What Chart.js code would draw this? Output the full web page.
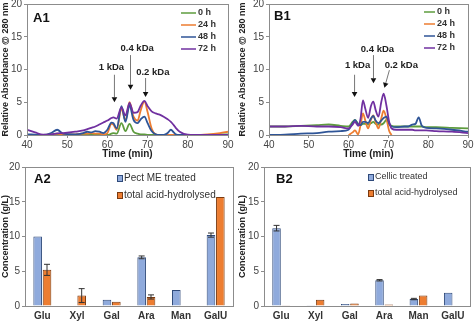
<!DOCTYPE html>
<html><head><meta charset="utf-8">
<script src="https://cdn.jsdelivr.net/npm/chart.js@4"></script>
<style>
html,body{margin:0;padding:0;background:#fff;}
#wrap{position:relative;width:474px;height:321px;overflow:hidden;}
canvas{position:absolute;}
</style></head>
<body><div id="wrap">
<canvas id="a1" width="237" height="160" style="left:0;top:0;width:237px;height:160px"></canvas>
<canvas id="b1" width="237" height="160" style="left:237px;top:0;width:237px;height:160px"></canvas>
<canvas id="a2" width="237" height="161" style="left:0;top:160px;width:237px;height:161px"></canvas>
<canvas id="b2" width="237" height="161" style="left:237px;top:160px;width:237px;height:161px"></canvas>
</div>
<script>
// ---------- DATA ----------
const seriesNames = ["0 h", "24 h", "48 h", "72 h"];

// Panel A1 (Pect ME)
const timeA1 = [40,42,44,46,47.5,49,52,54,55,56,57,58,59,60,61,61.5,62.3,63.5,64.5,65.5,66.5,67.5,68.3,69.2,70,71,72,73,74,75,75.8,76.5,77,78,80,84,88,90];
const a1_0h  = [0,0,0,0,0,0,0,0,0,0,0,0,0,0,0.2,0.3,0.2,1.8,0.6,1.7,0.5,0.2,0.1,0.1,0,0,0,0,0,0,0,0,0,0,0,0,0.1,0.1];
const a1_24h = [0,0,0,0.1,0.2,0.1,0.1,0.2,0.2,0.3,0.2,0.2,0.1,0.3,1.7,1.6,0.8,4.0,2.2,5.0,2.8,2.2,3.8,5.1,3.5,1.0,0.1,0,0,0,0,0,0,0,0,0.05,0.3,0.5];
const a1_48h = [0.1,0.05,0,0.3,0.8,0.2,0.1,0.3,0.5,0.4,0.6,0.5,0.3,0.8,1.9,1.8,1.0,4.4,2.0,4.5,2.3,1.8,2.4,2.8,1.8,0.6,0.1,0,0,0.3,0.8,0.4,0.1,0,0,0,0,0];
const a1_72h = [0.8,0.4,0.05,0.1,0.25,0.3,0.5,0.7,0.9,1.1,1.3,1.6,1.9,2.2,2.6,2.7,2.5,4.2,3.0,4.9,3.4,3.5,4.5,5.2,4.4,3.6,3.3,3.1,2.8,2.4,2.0,1.5,1.1,0.5,0.05,0,0,0];

// Panel B1 (Cellic)
const timeB1 = [40,44,48,52,55,58,60,61,61.6,62.4,63,63.6,64.2,64.9,65.6,66.2,66.8,67.5,68.2,68.8,69.5,70.2,70.8,72,74,75,76,76.8,77.6,78.4,79.5,82,86,90];
const b1_0h  = [1.3,1.3,1.4,1.5,1.6,1.4,1.3,2.0,2.3,1.7,1.5,1.7,1.7,1.6,1.8,2.0,1.7,1.6,1.6,1.8,2.3,1.6,1.4,1.3,1.3,1.3,1.3,1.3,1.3,1.3,1.2,1.2,1.1,1.0];
const b1_24h = [null,null,null,null,null,null,0,0.4,0.7,0.1,1.5,3.3,2.2,1.0,2.3,3.0,2.0,1.0,2.5,3.7,2.5,0.6,0,null,null,null,null,null,null,null,null,null,null,null];
const b1_48h = [0,0.05,0.2,0.3,0.5,0.6,0.8,1.8,2.3,1.6,1.5,2.0,2.0,1.8,2.5,2.9,2.2,1.8,2.2,2.6,2.8,1.8,1.3,1.2,1.3,1.3,1.6,1.7,2.7,1.4,1.1,1.0,0.8,0.5];
const b1_72h = [1.3,1.3,1.4,1.3,1.3,1.2,1.0,1.6,2.0,1.4,2.5,5.3,4.0,2.6,4.4,5.1,3.8,2.8,5.0,6.3,4.5,2.0,1.0,0.8,0.8,0.8,0.8,0.7,0.7,0.7,0.7,0.6,0.5,0.3];

// Panel A2 / B2 sugars
const sugars = ["Glu", "Xyl", "Gal", "Ara", "Man", "GalU"];
const a2_pect     = [10.0, 0, 0.9, 7.0, 2.3, 10.2];
const a2_pectErr  = [0, 0, 0, 0.2, 0, 0.3];
const a2_acid     = [5.2, 1.5, 0.6, 1.3, 0, 15.7];
const a2_acidErr  = [0.8, 1.0, 0, 0.3, 0, 0];
const b2_cellic   = [11.2, 0.1, 0.3, 3.7, 1.0, 1.9];
const b2_cellicErr= [0.4, 0, 0, 0.1, 0.1, 0];
const b2_acid     = [0.05, 0.9, 0.35, 0.2, 1.5, 0];
const b2_acidErr  = [0, 0, 0, 0, 0, 0];

// peak annotations (data units)
const peakA1 = [
  {t:"1 kDa",   tx:61.0, ty:10.4, x1:61.75, y1:9.2,  x2:61.75, y2:5.0},
  {t:"0.4 kDa", tx:67.4, ty:13.3, x1:65.75, y1:12.2, x2:65.75, y2:6.9},
  {t:"0.2 kDa", tx:71.3, ty:9.5,  x1:69.5,  y1:8.7,  x2:69.5,  y2:5.8}
];
const peakB1 = [
  {t:"1 kDa",   tx:62.25, ty:10.7, x1:61.5,  y1:9.2,  x2:61.5,  y2:5.8},
  {t:"0.4 kDa", tx:67.25, ty:13.1, x1:66.25, y1:12.2, x2:66.25, y2:7.9},
  {t:"0.2 kDa", tx:73.25, ty:10.7, x1:70.25, y1:9.9,  x2:69.0,  y2:7.2}
];

// ---------- STYLE ----------
const FONT = "'Liberation Sans', Arial, sans-serif";
Chart.defaults.font.family = FONT;
Chart.defaults.color = '#404040';
const lineColors = ['#5E9C3E', '#ED7D31', '#2F5597', '#7030A0'];
const AXIS = '#8c8c8c';

function fixY(w){ return s => { s.width = w; s.paddingTop = 0; s.paddingBottom = 0; }; }
function fixX(h){ return s => { s.height = h; s.paddingLeft = 0; s.paddingRight = 0; }; }

const framePlugin = {
  id:'frame',
  afterDraw(c){
    const a = c.chartArea, ctx = c.ctx;
    ctx.save(); ctx.strokeStyle = AXIS; ctx.lineWidth = 1;
    ctx.strokeRect(Math.round(a.left)+0.5, Math.round(a.top)+0.5, Math.round(a.right-a.left), Math.round(a.bottom-a.top));
    ctx.restore();
    const o = c.options.plugins.extra;
    if (!o) return;
    ctx.save();
    ctx.fillStyle = '#111';
    ctx.font = 'bold 13px ' + FONT;
    ctx.textBaseline = 'top'; ctx.textAlign = 'left';
    ctx.fillText(o.panel, a.left + o.panelDx, a.top + o.panelDy);
    ctx.restore();
    if (o.lineLegend) {
      ctx.save();
      ctx.font = 'bold 9px ' + FONT; ctx.textBaseline = 'middle'; ctx.fillStyle = '#333';
      o.lineLegend.names.forEach((n,i) => {
        const y = a.top + o.lineLegend.y0 + i*o.lineLegend.dy;
        ctx.strokeStyle = lineColors[i]; ctx.lineWidth = 1.5;
        ctx.beginPath(); ctx.moveTo(a.right - o.lineLegend.x0, y); ctx.lineTo(a.right - o.lineLegend.x1, y); ctx.stroke();
        ctx.fillStyle = '#333';
        ctx.fillText(n, a.right - o.lineLegend.x1 + 2, y);
      });
      ctx.restore();
    }
    if (o.peaks) {
      const xs = c.scales.x, ys = c.scales.y;
      ctx.save();
      ctx.font = 'bold 9.5px ' + FONT; ctx.textAlign = 'center'; ctx.textBaseline = 'middle';
      o.peaks.forEach(p => {
        ctx.fillStyle = '#222';
        ctx.fillText(p.t, xs.getPixelForValue(p.tx), ys.getPixelForValue(p.ty));
        const X1 = xs.getPixelForValue(p.x1), Y1 = ys.getPixelForValue(p.y1);
        const X2 = xs.getPixelForValue(p.x2), Y2 = ys.getPixelForValue(p.y2);
        const ang = Math.atan2(Y2-Y1, X2-X1), L = 5, W = 2.8;
        const bx = X2 - L*Math.cos(ang), by = Y2 - L*Math.sin(ang);
        ctx.strokeStyle = '#777'; ctx.lineWidth = 1;
        ctx.beginPath(); ctx.moveTo(X1,Y1); ctx.lineTo(bx,by); ctx.stroke();
        ctx.fillStyle = '#111';
        ctx.beginPath(); ctx.moveTo(X2,Y2);
        ctx.lineTo(bx + W*Math.sin(ang), by - W*Math.cos(ang));
        ctx.lineTo(bx - W*Math.sin(ang), by + W*Math.cos(ang));
        ctx.closePath(); ctx.fill();
      });
      ctx.restore();
    }
    if (o.barLegend) {
      ctx.save();
      const L = o.barLegend;
      ctx.font = L.size + 'px ' + FONT; ctx.textBaseline = 'middle';
      L.names.forEach((n,i) => {
        const y = a.top + L.y0 + i*L.dy;
        const x = a.left + L.x0;
        ctx.fillStyle = L.fills[i]; ctx.fillRect(x, y-3, 5, 6);
        ctx.strokeStyle = L.borders[i]; ctx.lineWidth = 1; ctx.strokeRect(x+0.5, y-2.5, 5, 6);
        ctx.fillStyle = '#333'; ctx.fillText(n, x + 7, y);
      });
      ctx.restore();
    }
  }
};

const errPlugin = {
  id:'errbars',
  afterDatasetsDraw(c){
    const ctx = c.ctx, ys = c.scales.y;
    c.data.datasets.forEach((ds, di) => {
      if (!ds.errors) return;
      const meta = c.getDatasetMeta(di);
      meta.data.forEach((el, i) => {
        const e = ds.errors[i]; if (!e) return;
        const v = ds.data[i];
        const yt = ys.getPixelForValue(v + e), yb = ys.getPixelForValue(Math.max(0, v - e));
        ctx.save(); ctx.strokeStyle = '#333'; ctx.lineWidth = 1;
        ctx.beginPath();
        ctx.moveTo(el.x, yt); ctx.lineTo(el.x, yb);
        ctx.moveTo(el.x-3, yt); ctx.lineTo(el.x+3, yt);
        ctx.moveTo(el.x-3, yb); ctx.lineTo(el.x+3, yb);
        ctx.stroke(); ctx.restore();
      });
    });
  }
};

function lineChart(id, time, series, geom, extra){
  const datasets = series.map((vals, i) => ({
    label: seriesNames[i],
    data: time.map((t, k) => ({x: t, y: vals[k]})),
    borderColor: lineColors[i], borderWidth: 1.8, pointRadius: 0,
    tension: 0.4, cubicInterpolationMode: 'monotone', spanGaps: false,
    order: 4 - i
  }));
  return new Chart(document.getElementById(id), {
    type: 'line',
    data: { datasets },
    options: {
      responsive: false, animation: false, devicePixelRatio: 1,
      layout: { padding: { top: geom.top, right: geom.right, left: 0, bottom: 0 } },
      plugins: { legend: {display:false}, tooltip: {enabled:false}, extra },
      scales: {
        x: { type: 'linear', min: 40, max: 90,
             ticks: { stepSize: 10, font: {size: 10}, color: '#444', padding: 1, maxRotation: 0 },
             grid: { drawOnChartArea: false, tickLength: 3, color: AXIS },
             border: { color: AXIS },
             title: { display: true, text: 'Time (min)', font: {size: 10, weight: 'bold'}, color: '#222', padding: {top: 0, bottom: 0} },
             afterFit: fixX(geom.xh) },
        y: { min: 0, max: 20,
             ticks: { stepSize: 5, font: {size: 10}, color: '#444', padding: 2 },
             grid: { drawOnChartArea: false, tickLength: 3, color: AXIS },
             border: { color: AXIS },
             title: { display: true, text: 'Relative Absorbance @ 280 nm', font: {size: 9, weight: 'bold'}, color: '#222', padding: {top: 0, bottom: 1} },
             afterFit: fixY(geom.yw) }
      }
    },
    plugins: [framePlugin]
  });
}

function barChart(id, s1, e1, s2, e2, names, geom, extra){
  const fills = ['#8FAADC', '#ED7D31'], borders = ['#2F4A7A', '#7A3A10'];
  return new Chart(document.getElementById(id), {
    type: 'bar',
    data: { labels: sugars, datasets: [
      { label: names[0], data: s1, errors: e1, backgroundColor: fills[0], borderColor: borders[0], borderWidth: 1, categoryPercentage: 0.54, barPercentage: 0.92 },
      { label: names[1], data: s2, errors: e2, backgroundColor: fills[1], borderColor: borders[1], borderWidth: 1, categoryPercentage: 0.54, barPercentage: 0.92 }
    ]},
    options: {
      responsive: false, animation: false, devicePixelRatio: 1,
      layout: { padding: { top: geom.top, right: geom.right, left: 0, bottom: 0 } },
      plugins: { legend: {display:false}, tooltip: {enabled:false},
        extra: Object.assign({ barLegend: Object.assign({ names, fills, borders }, extra.legend) }, extra) },
      scales: {
        x: { ticks: { font: {size: 10, weight: 'bold'}, color: '#333', padding: 4 },
             grid: { display: false, drawTicks: false },
             border: { color: AXIS },
             afterFit: fixX(geom.xh) },
        y: { min: 0, max: 20,
             ticks: { stepSize: 5, font: {size: 10}, color: '#444', padding: 2 },
             grid: { drawOnChartArea: false, tickLength: 3, color: AXIS },
             border: { color: AXIS },
             title: { display: true, text: 'Concentration (g/L)', font: {size: 9, weight: 'bold'}, color: '#222', padding: {top: 0, bottom: 1} },
             afterFit: fixY(geom.yw) }
      }
    },
    plugins: [framePlugin, errPlugin]
  });
}

lineChart('a1', timeA1, [a1_0h, a1_24h, a1_48h, a1_72h], {top: 4, right: 9, xh: 25, yw: 27},
  { panel: 'A1', panelDx: 6, panelDy: 8, peaks: peakA1,
    lineLegend: { names: seriesNames, x0: 47, x1: 32, y0: 9, dy: 12 } });
lineChart('b1', timeB1, [b1_0h, b1_24h, b1_48h, b1_72h], {top: 4, right: 6, xh: 25, yw: 32},
  { panel: 'B1', panelDx: 5, panelDy: 6, peaks: peakB1,
    lineLegend: { names: seriesNames, x0: 44, x1: 33, y0: 8, dy: 12 } });
barChart('a2', a2_pect, a2_pectErr, a2_acid, a2_acidErr, ['Pect ME treated', 'total acid-hydrolysed'],
  {top: 7, right: 4, xh: 15, yw: 25},
  { panel: 'A2', panelDx: 9, panelDy: 6, legend: { x0: 92, y0: 11, dy: 17, size: 10 } });
barChart('b2', b2_cellic, b2_cellicErr, b2_acid, b2_acidErr, ['Cellic treated', 'total acid-hydrolysed'],
  {top: 7, right: 4, xh: 15, yw: 27},
  { panel: 'B2', panelDx: 12, panelDy: 6, legend: { x0: 104, y0: 10, dy: 16, size: 9 } });
</script>
</body></html>
